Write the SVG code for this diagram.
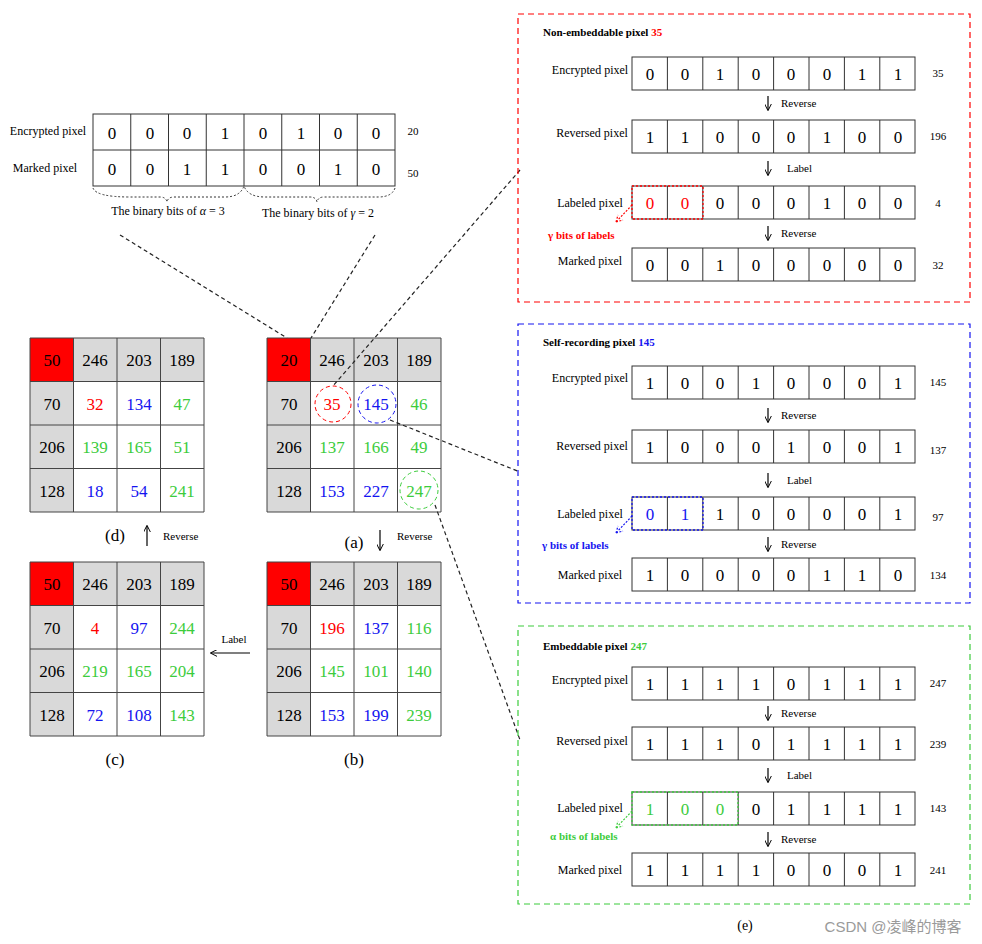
<svg xmlns="http://www.w3.org/2000/svg" xmlns:xlink="http://www.w3.org/1999/xlink" width="982" height="944" viewBox="0 0 982 944">
<style>
text{font-family:"Liberation Serif","Times New Roman",serif;fill:#000}
.lb{font-size:12px;text-anchor:middle}
.v{font-size:11px;text-anchor:middle}
.b{font-size:17px;text-anchor:middle}
.g{font-size:17px;text-anchor:middle}
.t{font-size:11px;font-weight:bold}
.s{font-size:11px}
.r{fill:#ff0000}.bl{fill:#1414f0}.gr{fill:#3ccc3c}
.dash{fill:none;stroke:#222;stroke-width:1.2;stroke-dasharray:4 3}
.ar{stroke:#000;stroke-width:1.2;fill:none;marker-end:url(#ah)}
</style>
<defs>
<g id="row8"><rect width="283" height="33" fill="#fff" stroke="#333"/><path d="M35.4 0v33M70.8 0v33M106.2 0v33M141.6 0v33M177 0v33M212.4 0v33M247.8 0v33" stroke="#333"/></g>
<g id="grid">
<rect width="174" height="174" fill="#fff"/>
<path d="M0 0h174v43.5H43.5V174H0z" fill="#d9d9d9"/>
<rect width="43.5" height="43.5" fill="#ff0000"/>
<path d="M0 0h174v174H0zM43.5 0v174M87 0v174M130.5 0v174M0 43.5h174M0 87h174M0 130.5h174" fill="none" stroke="#444"/>
</g>
<marker id="ah" viewBox="0 0 10 10" refX="9" refY="5" markerWidth="7" markerHeight="7" markerUnits="userSpaceOnUse" orient="auto"><path d="M0 0L10 5L0 10" fill="none" stroke="#000" stroke-width="1.4"/></marker>
<path id="da" d="M0 0v14" class="ar"/>
</defs>

<g id="topbits">
<text x="48" y="135" class="lb">Encrypted pixel</text>
<text x="45" y="172" class="lb">Marked pixel</text>
<rect x="93" y="114" width="302" height="72" fill="#fff" stroke="#333"/>
<path d="M130.75 114v72M168.5 114v72M206.25 114v72M244 114v72M281.75 114v72M319.5 114v72M357.25 114v72M93 150h302" stroke="#333"/>
<g class="b"><text x="112" y="139">0</text><text x="150" y="139">0</text><text x="187" y="139">0</text><text x="225" y="139">1</text><text x="263" y="139">0</text><text x="301" y="139">1</text><text x="338" y="139">0</text><text x="376" y="139">0</text>
<text x="112" y="175">0</text><text x="150" y="175">0</text><text x="187" y="175">1</text><text x="225" y="175">1</text><text x="263" y="175">0</text><text x="301" y="175">0</text><text x="338" y="175">1</text><text x="376" y="175">0</text></g>
<text x="413" y="135" class="v">20</text><text x="413" y="177" class="v">50</text>
<path d="M93 188Q96 197 130 197H160Q166 197 167 202Q168 197 174 197H225Q240 197 244 186Q248 197 265 197H310Q316 197 317 202Q318 197 324 197H378Q392 197 395 188" fill="none" stroke="#333" stroke-dasharray="2 2"/>
<text x="168" y="215" class="lb">The binary bits of <tspan font-style="italic">α</tspan> = 3</text>
<text x="318" y="217" class="lb">The binary bits of <tspan font-style="italic">γ</tspan> = 2</text>
</g>

<g id="grid-d" class="g"><use xlink:href="#grid" x="30" y="338"/>
<text x="52" y="366">50</text><text x="95" y="366">246</text><text x="139" y="366">203</text><text x="182" y="366">189</text>
<text x="52" y="410">70</text><text x="95" y="410" class="r">32</text><text x="139" y="410" class="bl">134</text><text x="182" y="410" class="gr">47</text>
<text x="52" y="453">206</text><text x="95" y="453" class="gr">139</text><text x="139" y="453" class="gr">165</text><text x="182" y="453" class="gr">51</text>
<text x="52" y="497">128</text><text x="95" y="497" class="bl">18</text><text x="139" y="497" class="bl">54</text><text x="182" y="497" class="gr">241</text>
<text x="115" y="541">(d)</text></g>
<text x="163" y="540" class="s">Reverse</text>

<g id="grid-a" class="g"><use xlink:href="#grid" x="267" y="338"/>
<text x="289" y="366">20</text><text x="332" y="366">246</text><text x="376" y="366">203</text><text x="419" y="366">189</text>
<text x="289" y="410">70</text><text x="332" y="410" class="r">35</text><text x="376" y="410" class="bl">145</text><text x="419" y="410" class="gr">46</text>
<text x="289" y="453">206</text><text x="332" y="453" class="gr">137</text><text x="376" y="453" class="gr">166</text><text x="419" y="453" class="gr">49</text>
<text x="289" y="497">128</text><text x="332" y="497" class="bl">153</text><text x="376" y="497" class="bl">227</text><text x="419" y="497" class="gr">247</text>
<text x="354" y="548">(a)</text>
<circle cx="333" cy="404" r="18" fill="none" stroke="#ff0000" stroke-dasharray="4 3"/>
<circle cx="377" cy="404" r="19" fill="none" stroke="#1414f0" stroke-dasharray="4 3"/>
<circle cx="419" cy="490" r="19" fill="none" stroke="#3ccc3c" stroke-dasharray="4 3"/>
</g>
<text x="397" y="540" class="s">Reverse</text>

<g id="grid-c" class="g"><use xlink:href="#grid" x="30" y="562"/>
<text x="52" y="590">50</text><text x="95" y="590">246</text><text x="139" y="590">203</text><text x="182" y="590">189</text>
<text x="52" y="634">70</text><text x="95" y="634" class="r">4</text><text x="139" y="634" class="bl">97</text><text x="182" y="634" class="gr">244</text>
<text x="52" y="677">206</text><text x="95" y="677" class="gr">219</text><text x="139" y="677" class="gr">165</text><text x="182" y="677" class="gr">204</text>
<text x="52" y="721">128</text><text x="95" y="721" class="bl">72</text><text x="139" y="721" class="bl">108</text><text x="182" y="721" class="gr">143</text>
<text x="115" y="765">(c)</text></g>
<text x="234" y="643" class="s" text-anchor="middle">Label</text>

<g id="grid-b" class="g"><use xlink:href="#grid" x="267" y="562"/>
<text x="289" y="590">50</text><text x="332" y="590">246</text><text x="376" y="590">203</text><text x="419" y="590">189</text>
<text x="289" y="634">70</text><text x="332" y="634" class="r">196</text><text x="376" y="634" class="bl">137</text><text x="419" y="634" class="gr">116</text>
<text x="289" y="677">206</text><text x="332" y="677" class="gr">145</text><text x="376" y="677" class="gr">101</text><text x="419" y="677" class="gr">140</text>
<text x="289" y="721">128</text><text x="332" y="721" class="bl">153</text><text x="376" y="721" class="bl">199</text><text x="419" y="721" class="gr">239</text>
<text x="354" y="765">(b)</text></g>

<g id="connectors">
<path class="dash" d="M120 235L287 338M375 235L311 338M520 170L333 386M390 420L520 472M435 505L520 740"/>
<path class="ar" d="M147 546V526"/>
<path class="ar" d="M380 530V550"/>
<path class="ar" d="M250 653H211"/>
</g>

<g id="panel-red">
<rect x="518" y="14" width="452" height="288" fill="none" stroke="#ff0000" stroke-width="1.2" stroke-dasharray="6 4"/>
<text x="543" y="36" class="t">Non-embeddable pixel <tspan class="r">35</tspan></text>
<text x="590" y="74" class="lb">Encrypted pixel</text><text x="592" y="137" class="lb">Reversed pixel</text><text x="590" y="207" class="lb">Labeled pixel</text><text x="590" y="265" class="lb">Marked pixel</text>
<use xlink:href="#row8" x="632" y="57"/><use xlink:href="#row8" x="632" y="120"/><use xlink:href="#row8" x="632" y="186"/><use xlink:href="#row8" x="632" y="248"/>
<g class="b">
<text x="650" y="80">0</text><text x="685" y="80">0</text><text x="720" y="80">1</text><text x="756" y="80">0</text><text x="791" y="80">0</text><text x="827" y="80">0</text><text x="862" y="80">1</text><text x="898" y="80">1</text>
<text x="650" y="143">1</text><text x="685" y="143">1</text><text x="720" y="143">0</text><text x="756" y="143">0</text><text x="791" y="143">0</text><text x="827" y="143">1</text><text x="862" y="143">0</text><text x="898" y="143">0</text>
<text x="650" y="209" class="r">0</text><text x="685" y="209" class="r">0</text><text x="720" y="209">0</text><text x="756" y="209">0</text><text x="791" y="209">0</text><text x="827" y="209">1</text><text x="862" y="209">0</text><text x="898" y="209">0</text>
<text x="650" y="271">0</text><text x="685" y="271">0</text><text x="720" y="271">1</text><text x="756" y="271">0</text><text x="791" y="271">0</text><text x="827" y="271">0</text><text x="862" y="271">0</text><text x="898" y="271">0</text>
</g>
<text x="938" y="77" class="v">35</text><text x="938" y="140" class="v">196</text><text x="938" y="207" class="v">4</text><text x="938" y="269" class="v">32</text>
<use xlink:href="#da" x="768" y="96"/><text x="781" y="107" class="s">Reverse</text>
<use xlink:href="#da" x="768" y="161"/><text x="787" y="172" class="s">Label</text>
<use xlink:href="#da" x="768" y="226"/><text x="781" y="237" class="s">Reverse</text>
<rect x="632" y="186" width="71" height="33" fill="none" stroke="#ff0000" stroke-width="1.3" stroke-dasharray="2 2"/>
<path d="M632 205L616 222M616 222l2-7M616 222l7-2" fill="none" stroke="#ff0000" stroke-width="1.2" stroke-dasharray="2 1.5"/>
<text x="548" y="239" class="t r">γ bits of labels</text>
</g>

<g id="panel-blue">
<rect x="518" y="324" width="452" height="279" fill="none" stroke="#1414f0" stroke-width="1.2" stroke-dasharray="6 4"/>
<text x="543" y="346" class="t">Self-recording pixel <tspan class="bl">145</tspan></text>
<text x="590" y="382" class="lb">Encrypted pixel</text><text x="592" y="450" class="lb">Reversed pixel</text><text x="590" y="518" class="lb">Labeled pixel</text><text x="590" y="579" class="lb">Marked pixel</text>
<use xlink:href="#row8" x="632" y="366"/><use xlink:href="#row8" x="632" y="430"/><use xlink:href="#row8" x="632" y="497"/><use xlink:href="#row8" x="632" y="558"/>
<g class="b">
<text x="650" y="389">1</text><text x="685" y="389">0</text><text x="720" y="389">0</text><text x="756" y="389">1</text><text x="791" y="389">0</text><text x="827" y="389">0</text><text x="862" y="389">0</text><text x="898" y="389">1</text>
<text x="650" y="453">1</text><text x="685" y="453">0</text><text x="720" y="453">0</text><text x="756" y="453">0</text><text x="791" y="453">1</text><text x="827" y="453">0</text><text x="862" y="453">0</text><text x="898" y="453">1</text>
<text x="650" y="520" class="bl">0</text><text x="685" y="520" class="bl">1</text><text x="720" y="520">1</text><text x="756" y="520">0</text><text x="791" y="520">0</text><text x="827" y="520">0</text><text x="862" y="520">0</text><text x="898" y="520">1</text>
<text x="650" y="581">1</text><text x="685" y="581">0</text><text x="720" y="581">0</text><text x="756" y="581">0</text><text x="791" y="581">0</text><text x="827" y="581">1</text><text x="862" y="581">1</text><text x="898" y="581">0</text>
</g>
<text x="938" y="386" class="v">145</text><text x="938" y="454" class="v">137</text><text x="938" y="521" class="v">97</text><text x="938" y="579" class="v">134</text>
<use xlink:href="#da" x="768" y="408"/><text x="781" y="419" class="s">Reverse</text>
<use xlink:href="#da" x="768" y="473"/><text x="787" y="484" class="s">Label</text>
<use xlink:href="#da" x="768" y="537"/><text x="781" y="548" class="s">Reverse</text>
<rect x="632" y="497" width="71" height="33" fill="none" stroke="#1414f0" stroke-width="1.3" stroke-dasharray="2 2"/>
<path d="M632 516L616 533M616 533l2-7M616 533l7-2" fill="none" stroke="#1414f0" stroke-width="1.2" stroke-dasharray="2 1.5"/>
<text x="542" y="549" class="t bl">γ bits of labels</text>
</g>

<g id="panel-green">
<rect x="518" y="626" width="452" height="278" fill="none" stroke="#3ccc3c" stroke-width="1.2" stroke-dasharray="6 4"/>
<text x="543" y="650" class="t">Embeddable pixel <tspan class="gr">247</tspan></text>
<text x="590" y="684" class="lb">Encrypted pixel</text><text x="592" y="745" class="lb">Reversed pixel</text><text x="590" y="812" class="lb">Labeled pixel</text><text x="590" y="874" class="lb">Marked pixel</text>
<use xlink:href="#row8" x="632" y="667"/><use xlink:href="#row8" x="632" y="727"/><use xlink:href="#row8" x="632" y="792"/><use xlink:href="#row8" x="632" y="853"/>
<g class="b">
<text x="650" y="690">1</text><text x="685" y="690">1</text><text x="720" y="690">1</text><text x="756" y="690">1</text><text x="791" y="690">0</text><text x="827" y="690">1</text><text x="862" y="690">1</text><text x="898" y="690">1</text>
<text x="650" y="750">1</text><text x="685" y="750">1</text><text x="720" y="750">1</text><text x="756" y="750">0</text><text x="791" y="750">1</text><text x="827" y="750">1</text><text x="862" y="750">1</text><text x="898" y="750">1</text>
<text x="650" y="815" class="gr">1</text><text x="685" y="815" class="gr">0</text><text x="720" y="815" class="gr">0</text><text x="756" y="815">0</text><text x="791" y="815">1</text><text x="827" y="815">1</text><text x="862" y="815">1</text><text x="898" y="815">1</text>
<text x="650" y="876">1</text><text x="685" y="876">1</text><text x="720" y="876">1</text><text x="756" y="876">1</text><text x="791" y="876">0</text><text x="827" y="876">0</text><text x="862" y="876">0</text><text x="898" y="876">1</text>
</g>
<text x="938" y="687" class="v">247</text><text x="938" y="748" class="v">239</text><text x="938" y="812" class="v">143</text><text x="938" y="874" class="v">241</text>
<use xlink:href="#da" x="768" y="706"/><text x="781" y="717" class="s">Reverse</text>
<use xlink:href="#da" x="768" y="768"/><text x="787" y="779" class="s">Label</text>
<use xlink:href="#da" x="768" y="832"/><text x="781" y="843" class="s">Reverse</text>
<rect x="632" y="792" width="106" height="33" fill="none" stroke="#3ccc3c" stroke-width="1.3" stroke-dasharray="2 2"/>
<path d="M632 811L616 828M616 828l2-7M616 828l7-2" fill="none" stroke="#3ccc3c" stroke-width="1.2" stroke-dasharray="2 1.5"/>
<text x="550" y="840" class="t gr">α bits of labels</text>
</g>
<text x="745" y="930" font-size="14" text-anchor="middle">(e)</text>
<text x="893" y="932" font-size="15" style="fill:#9a9a9a;font-family:'Liberation Sans','Noto Sans CJK SC',sans-serif" text-anchor="middle">CSDN @凌峰的博客</text>
</svg>
